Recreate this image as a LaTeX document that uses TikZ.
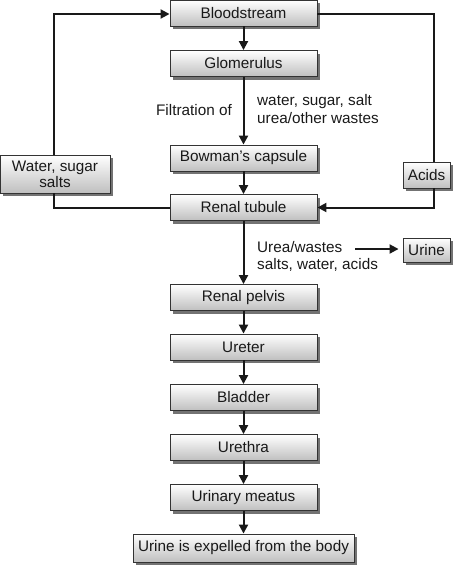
\documentclass[tikz,border=0pt]{standalone}
\usepackage{fontspec}
\setmainfont{Liberation Sans}
\usetikzlibrary{arrows.meta,shadows}
\begin{document}
\begin{tikzpicture}[x=1pt,y=-1pt,
  font=\fontsize{15.3}{17}\selectfont,
  box/.style={draw=black!80, line width=0.9pt, top color=white, bottom color=black!25,
    drop shadow={shadow xshift=3pt, shadow yshift=-3pt, fill=black!55, opacity=1},
    inner sep=0pt, align=center, text=black!90},
  mbox/.style={box, minimum width=147pt, minimum height=26pt},
  conn/.style={line width=2pt, black!90},
  arr/.style={conn, -{Triangle[length=9pt,width=9pt]}}
]
\useasboundingbox (0,0) rectangle (463,565);
% main column
\node[mbox] (blood) at (243.5,13) {Bloodstream};
\node[mbox] (glom) at (243.5,63.5) {Glomerulus};
\node[mbox] (bow) at (243.5,158) {Bowman's capsule};
\node[mbox] (ren) at (243.5,207.5) {Renal tubule};
\node[mbox] (pelv) at (243.5,297.5) {Renal pelvis};
\node[mbox] (uret) at (243.5,347) {Ureter};
\node[mbox] (blad) at (243.5,397.5) {Bladder};
\node[mbox] (ureth) at (243.5,447.5) {Urethra};
\node[mbox] (meat) at (243.5,497.5) {Urinary meatus};
\node[box, minimum width=221pt, minimum height=28pt] (out) at (243.5,548) {Urine is expelled from the body};
% side boxes
\node[box, minimum width=110pt, minimum height=38pt, font=\fontsize{15.3}{16}\selectfont] (water) at (55,174) {Water, sugar\\salts};
\node[box, minimum width=47pt, minimum height=26pt] (acids) at (426.5,175) {Acids};
\node[box, minimum width=47pt, minimum height=24pt] (urine) at (426.5,250) {Urine};
% labels
\node[anchor=east, inner sep=0pt, text=black!90] (filt) at (232,110) {Filtration of};
\node[anchor=west, inner sep=0pt, align=left, text=black!90, font=\fontsize{15.3}{18}\selectfont] (filtlist) at (257,109) {water, sugar, salt\\urea/other wastes};
\node[anchor=west, inner sep=0pt, align=left, text=black!90, font=\fontsize{15.3}{17}\selectfont] (urlist) at (257,256) {Urea/wastes\\salts, water, acids};
\coordinate (ustart) at (355,249);
% column arrows
\draw[arr] (blood) -- (glom);
\draw[arr] (glom) -- (bow);
\draw[arr] (bow) -- (ren);
\draw[arr] (ren) -- (pelv);
\draw[arr] (pelv) -- (uret);
\draw[arr] (uret) -- (blad);
\draw[arr] (blad) -- (ureth);
\draw[arr] (ureth) -- (meat);
\draw[arr] (meat) -- (out);
% loops
\draw[conn] (ren.west) -- (54,207.5) -- (54,193);
\draw[arr] (54,155) -- (54,14) -- (blood.west |- 0,14);
\draw[conn] (blood.east |- 0,14) -- (434,14) -- (434,162);
\draw[arr] (434,188) -- (434,207.5) -- (ren.east);
\draw[arr] (ustart) -- ([xshift=-4pt]urine.west |- ustart);
\end{tikzpicture}
\end{document}
